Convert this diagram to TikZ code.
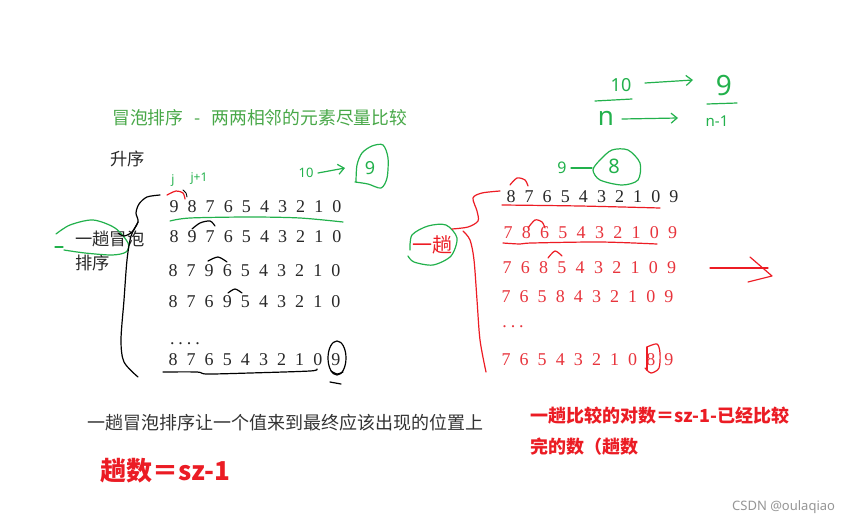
\documentclass[tikz,border=0pt]{standalone}
\usepackage{fontspec}
\setmainfont{Liberation Serif}
\newfontfamily\cjk{Noto Sans CJK SC}
\newfontfamily\hand{Noto Sans}
\usetikzlibrary{arrows.meta}
\definecolor{titlegreen}{RGB}{72,168,72}
\definecolor{pengreen}{RGB}{34,177,76}
\definecolor{penred}{RGB}{237,28,36}
\definecolor{digred}{RGB}{232,52,60}
\definecolor{boldred}{RGB}{235,28,36}
\definecolor{txtblack}{RGB}{40,40,40}
\definecolor{wmgray}{RGB}{150,150,150}
\newcommand\digitrow[6]{\foreach \d [count=\i] in {#5} {\node[digit,#6] (#1\i) at ({#2+(\i-1)*#4},#3) {\d};}}
\begin{document}
\begin{tikzpicture}[x=1pt,y=-1pt,
  digit/.style={font=\fontsize{18}{18}\selectfont, inner sep=0pt, text=txtblack},
  cjktxt/.style={font=\cjk\fontsize{17.3}{17.3}\selectfont, inner sep=0pt, anchor=west, text=txtblack},
  boldtxt/.style={font=\cjk\bfseries\fontsize{18}{18}\selectfont, inner sep=0pt, anchor=west, text=boldred},
  handg/.style={font=\hand, inner sep=0pt, text=pengreen},
  gpen/.style={draw=pengreen, line width=1.2pt, line cap=round, line join=round},
  rpen/.style={draw=penred, line width=1.2pt, line cap=round, line join=round},
  kpen/.style={draw=black, line width=1.2pt, line cap=round, line join=round},
  barb/.style={-{Straight Barb[length=6pt,width=10pt]}}
]
\useasboundingbox (0,0) rectangle (852,525);
\fill[white] (0,0) rectangle (852,525);

% ---------- texts ----------
\node[cjktxt, text=titlegreen, font=\cjk\fontsize{17.8}{17.8}\selectfont] (title) at (112,118) {冒泡排序\hspace{11pt}-\hspace{11pt}两两相邻的元素尽量比较};
\node[cjktxt] (asc) at (110,159) {升序};
\node[cjktxt] (pass1) at (75,239) {一趟冒泡};
\node[cjktxt] (pass2) at (75,263) {排序};
\node[cjktxt, text={rgb,255:red,51;green,51;blue,51}, font=\cjk\fontsize{18}{18}\selectfont] (note) at (87,423) {一趟冒泡排序让一个值来到最终应该出现的位置上};
\node[boldtxt, font=\cjk\bfseries\fontsize{26}{26}\selectfont] (passes) at (100,471) {趟数＝sz-1};
\node[boldtxt] (pairs1) at (530,416) {一趟比较的对数＝sz-1-已经比较};
\node[boldtxt] (pairs2) at (530,447) {完的数（趟数};
\node[font=\fontsize{13}{13}\selectfont\hand, text=wmgray, inner sep=0pt, anchor=west] (wm) at (732,507) {CSDN @oulaqiao};

% ---------- digit rows (left) ----------
\digitrow{a}{174}{207}{18.1}{9,8,7,6,5,4,3,2,1,0}{}
\digitrow{b}{174}{237}{18.1}{8,9,7,6,5,4,3,2,1,0}{}
\digitrow{c}{173}{271}{18.1}{8,7,9,6,5,4,3,2,1,0}{}
\digitrow{d}{173}{302}{18.1}{8,7,6,9,5,4,3,2,1,0}{}
\node[digit] (dots) at (185,344) {.\hspace{4pt}.\hspace{4pt}.\hspace{4pt}.};
\digitrow{e}{173}{360}{18.1}{8,7,6,5,4,3,2,1,0,9}{}

% ---------- digit rows (right) ----------
\digitrow{f}{511}{197}{18.1}{8,7,6,5,4,3,2,1,0,9}{}
\digitrow{g}{508}{233}{18.3}{7,8,6,5,4,3,2,1,0,9}{text=digred}
\digitrow{h}{507}{268}{18.3}{7,6,8,5,4,3,2,1,0,9}{text=digred}
\digitrow{k}{506}{297}{18.1}{7,6,5,8,4,3,2,1,0,9}{text=digred}
\node[digit, text=digred] (rdots) at (513,327) {.\hspace{4pt}.\hspace{4pt}.};
\digitrow{m}{506}{360}{18.1}{7,6,5,4,3,2,1,0,8,9}{text=digred}

% ---------- green handwriting ----------
\node[handg, font=\hand\fontsize{12}{12}\selectfont] (j) at (173,181) {j};
\node[handg, font=\hand\fontsize{12}{12}\selectfont] (j1) at (199,179) {j+1};
\draw[gpen] plot[smooth] coordinates {(170,221) (190,218) (250,217) (300,218) (343,222)};
\draw[gpen] plot[smooth] coordinates {(56,234) (70,225) (93,220) (115,228) (128,243) (126,252) (112,255) (85,253) (64,250)};
\draw[gpen] (55,247) -- (63,247);
% 10 -> 9
\node[handg, font=\hand\fontsize{13}{13}\selectfont] (ten) at (306,173) {10};
\coordinate (t1) at (318,173);
\coordinate (t2) at (345,168);
\draw[gpen, barb] (t1) -- (t2);
\node[handg, font=\hand\fontsize{18}{18}\selectfont] (nine) at (370,168) {9};
\draw[gpen] plot[smooth] coordinates {(356,182) (357,165) (362,153) (372,146) (383,145) (388,158) (387,178) (381,188) (368,184) (355,182)};
% fraction top right
\node[handg, font=\hand\fontsize{18}{18}\selectfont] (fr10) at (621,85) {10};
\draw[gpen] (595,101) -- (632,99);
\coordinate (u1) at (645,83);
\coordinate (u2) at (693,80);
\draw[gpen, barb] (u1) -- (u2);
\node[handg, font=\hand\fontsize{28}{28}\selectfont] (fr9) at (724,86) {9};
\draw[gpen] (707,104) -- (737,103);
\node[handg, font=\hand\fontsize{26}{26}\selectfont] (frn) at (606,118) {n};
\coordinate (v1) at (622,119);
\coordinate (v2) at (678,118);
\draw[gpen, barb] (v1) -- (v2);
\node[handg, font=\hand\fontsize{15}{15}\selectfont] (frn1) at (717,121) {n-1};
% 9 -> 8 circled
\node[handg, font=\hand\fontsize{16}{16}\selectfont] (s9) at (562,168) {9};
\draw[gpen] (571,168) -- (592,168);
\draw[gpen] plot[smooth cycle] coordinates {(600,160) (612,150) (628,150) (640,163) (638,180) (622,185) (600,180) (593,170)};
\node[handg, font=\hand\fontsize{20}{20}\selectfont] (s8) at (614,166) {8};
% circle around red 一趟
\draw[gpen] plot[smooth] coordinates {(410,250) (412,235) (428,226) (446,225) (457,238) (451,256) (433,265) (414,262) (408,256)};
\node[cjktxt, text=penred, font=\cjk\fontsize{20}{20}\selectfont, anchor=center] (yitang) at (432,245) {一趟};

% ---------- red handwriting ----------
\draw[rpen] plot[smooth] coordinates {(167,195) (176,191) (183,193) (185,199)};
\draw[rpen] plot[smooth] coordinates {(500,191) (482,193) (473,198) (477,211) (478,221) (468,227) (452,229)};
\draw[rpen] plot[smooth] coordinates {(463,231) (470,240) (474,260) (477,300) (480,340) (486,372)};
\draw[rpen] plot[smooth] coordinates {(502,205) (580,206) (660,208)};
\draw[rpen] plot[smooth] coordinates {(510,185) (517,178) (525,180) (528,186)};
\draw[rpen] plot[smooth] coordinates {(503,243) (520,244) (532,243) (600,242) (657,244)};
\draw[rpen] plot[smooth] coordinates {(528,228) (535,220) (542,222) (545,228)};
\draw[rpen] plot[smooth] coordinates {(548,258) (555,251) (562,256)};
\draw[rpen] plot[smooth] coordinates {(647,347) (657,344) (660,353) (659,368) (651,373) (645,368)};
\draw[rpen] (647,347) -- (647,370);
\coordinate (w1) at (710,268);
\coordinate (w2) at (768,268);
\draw[rpen] (w1) -- (w2);
\draw[rpen] (750,257) -- (772,276) -- (748,282);

% ---------- black handwriting ----------
\draw[kpen] plot[smooth] coordinates {(160,195) (147,197) (139,204) (136,213) (138,222) (131,236) (127,260) (124,300) (121,340) (124,362) (138,377)};
\draw[kpen] plot[smooth] coordinates {(138,222) (132,232) (124,236) (118,233)};
\draw[kpen, line width=0.9pt] plot[smooth] coordinates {(183,190) (186,193) (187,197)};
\draw[kpen] plot[smooth] coordinates {(192,229) (200,223) (210,221) (215,226)};
\draw[kpen] plot[smooth] coordinates {(208,261) (218,257) (227,262)};
\draw[kpen] plot[smooth] coordinates {(228,293) (235,289) (242,293)};
\draw[kpen] plot[smooth] coordinates {(163,372) (197,372) (207,374) (250,373) (310,371) (317,369)};
\draw[kpen] (337,358) ellipse[x radius=9, y radius=17];
\draw[kpen] plot[smooth] coordinates {(331,371) (337,374) (343,372)};
\draw[kpen] (330,382) -- (341,384);
\end{tikzpicture}
\end{document}
